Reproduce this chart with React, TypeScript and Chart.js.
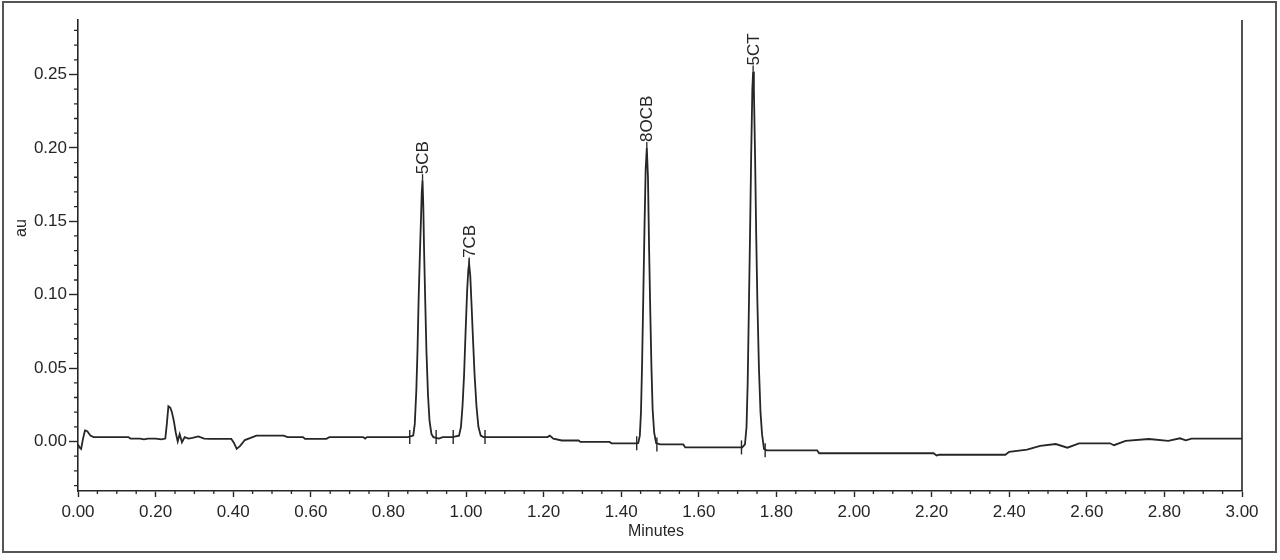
import { useEffect, useRef } from 'react';
import { Chart, registerables } from 'chart.js';

Chart.register(...registerables);

// chromatogram trace (minutes / au)
const minutes = [
  0.000, 0.004, 0.008, 0.013, 0.018, 0.024, 0.032, 0.040, 0.130, 0.135, 0.160, 0.170, 0.180, 0.200, 0.215, 0.225,
  0.229, 0.233, 0.238, 0.242, 0.247, 0.252, 0.257, 0.262, 0.268, 0.275, 0.285, 0.295, 0.310, 0.325, 0.340, 0.395,
  0.402, 0.409, 0.418, 0.430, 0.450, 0.460, 0.530, 0.540, 0.580, 0.585, 0.640, 0.648, 0.735, 0.740, 0.745, 0.850,
  // 5CB
  0.864, 0.868, 0.872, 0.875, 0.878, 0.881, 0.884, 0.886, 0.888, 0.890, 0.892, 0.895, 0.898, 0.902, 0.906, 0.911, 0.916,
  0.930, 0.940, 0.965,
  // 7CB
  0.982, 0.987, 0.991, 0.995, 0.999, 1.003, 1.006, 1.008, 1.011, 1.014, 1.018, 1.022, 1.027, 1.032, 1.038, 1.045,
  1.210, 1.216, 1.225, 1.247, 1.290, 1.295, 1.370, 1.375, 1.440,
  // 8OCB
  1.444, 1.448, 1.451, 1.454, 1.457, 1.460, 1.463, 1.466, 1.469, 1.472, 1.475, 1.478, 1.481, 1.485, 1.490,
  1.500, 1.560, 1.565, 1.712,
  // 5CT
  1.719, 1.723, 1.726, 1.729, 1.732, 1.735, 1.738, 1.740, 1.742, 1.745, 1.748, 1.751, 1.755, 1.759, 1.763, 1.768,
  1.775, 1.905, 1.910, 2.205, 2.213, 2.220, 2.390, 2.400, 2.446, 2.480, 2.520, 2.550, 2.580, 2.660, 2.670, 2.700,
  2.760, 2.810, 2.840, 2.855, 2.870, 3.000,
];

const absorbance = [
  -0.002, -0.004, -0.005, 0.002, 0.0075, 0.007, 0.004, 0.003, 0.003, 0.002, 0.002, 0.0015, 0.002, 0.002, 0.0015, 0.002,
  0.012, 0.024, 0.023, 0.020, 0.014, 0.006, 0.000, 0.005, -0.0005, 0.003, 0.002, 0.0025, 0.0035, 0.002, 0.0018, 0.0018,
  -0.001, -0.005, -0.003, 0.001, 0.003, 0.004, 0.004, 0.003, 0.003, 0.0018, 0.0018, 0.003, 0.003, 0.002, 0.003, 0.003,
  0.004, 0.012, 0.035, 0.062, 0.098, 0.126, 0.152, 0.170, 0.178, 0.160, 0.130, 0.095, 0.062, 0.032, 0.014, 0.005, 0.003,
  0.002, 0.003, 0.003,
  0.004, 0.010, 0.024, 0.045, 0.075, 0.103, 0.117, 0.121, 0.113, 0.095, 0.070, 0.046, 0.024, 0.010, 0.004, 0.003,
  0.003, 0.004, 0.002, 0.0007, 0.0007, -0.0003, -0.0003, -0.0012, -0.0012,
  -0.001, 0.004, 0.020, 0.055, 0.100, 0.145, 0.185, 0.200, 0.180, 0.130, 0.088, 0.050, 0.022, 0.006, -0.001,
  -0.002, -0.002, -0.004, -0.004,
  -0.002, 0.010, 0.040, 0.090, 0.140, 0.195, 0.240, 0.252, 0.240, 0.195, 0.140, 0.095, 0.050, 0.020, 0.005, -0.005,
  -0.006, -0.006, -0.008, -0.008, -0.0095, -0.009, -0.009, -0.007, -0.0055, -0.003, -0.0017, -0.0042, -0.0012, -0.0012, -0.0025, 0.0005,
  0.0017, 0.0005, 0.0022, 0.0008, 0.002, 0.002,
];

// peak labels
const peakNames = ['5CB', '7CB', '8OCB', '5CT'];
const peakTimes = [0.888, 1.008, 1.466, 1.740];
const peakHeights = [0.178, 0.121, 0.200, 0.252];

// integration start/end marks on the baseline
const markTimes = [0.855, 0.923, 0.967, 1.049, 1.440, 1.492, 1.710, 1.771];
const markLevels = [0.003, 0.003, 0.003, 0.003, -0.0012, -0.002, -0.004, -0.006];

const xMin = 0;
const xMax = 3;
const yMin = -0.0337;
const yMax = 0.2871;

const FONT = "'Liberation Sans', Arial, sans-serif";
const INK = '#262626';

const decorations = {
  id: 'decorations',
  afterDraw(chart: any) {
    const { ctx, chartArea: a, scales } = chart;
    const xs = scales.x;
    const ys = scales.y;
    ctx.save();
    ctx.strokeStyle = INK;
    ctx.lineWidth = 1.3;

    // minor ticks
    ctx.beginPath();
    for (let i = 0; i <= 60; i++) {
      if (i % 4 === 0) continue;
      const px = xs.getPixelForValue(i * 0.05);
      ctx.moveTo(px, a.bottom);
      ctx.lineTo(px, a.bottom + 3);
    }
    for (let i = -3; i <= 28; i++) {
      if (i % 5 === 0) continue;
      const py = ys.getPixelForValue(i * 0.01);
      ctx.moveTo(a.left, py);
      ctx.lineTo(a.left - 4, py);
    }
    ctx.stroke();

    // right edge line
    ctx.lineWidth = 1.6;
    ctx.beginPath();
    ctx.moveTo(a.right, a.top);
    ctx.lineTo(a.right, a.bottom);
    ctx.stroke();

    // peak labels
    ctx.fillStyle = INK;
    ctx.font = `17px ${FONT}`;
    ctx.lineWidth = 1.3;
    peakNames.forEach((name, i) => {
      const px = xs.getPixelForValue(peakTimes[i]);
      const py = ys.getPixelForValue(peakHeights[i]);
      ctx.beginPath();
      ctx.moveTo(px, py);
      ctx.lineTo(px, py - 6);
      ctx.stroke();
      ctx.save();
      ctx.translate(px + 1, py - 6);
      ctx.rotate(-Math.PI / 2);
      ctx.textAlign = 'left';
      ctx.textBaseline = 'middle';
      ctx.fillText(name, 0, 0);
      ctx.restore();
    });

    // axis titles
    ctx.font = `16px ${FONT}`;
    ctx.textAlign = 'center';
    ctx.textBaseline = 'middle';
    ctx.fillText('Minutes', 656, 532);
    ctx.save();
    ctx.translate(22, 228);
    ctx.rotate(-Math.PI / 2);
    ctx.fillText('au', 0, 0);
    ctx.restore();

    // outer frame
    ctx.strokeStyle = '#555';
    ctx.lineWidth = 2;
    ctx.strokeRect(3, 2, 1273, 550);
    ctx.restore();
  },
};

function Chromatogram() {
  const canvasRef = useRef<HTMLCanvasElement>(null);

  useEffect(() => {
    if (!canvasRef.current) return;
    const ctx = canvasRef.current.getContext('2d');
    if (!ctx) return;

    const chart = new Chart(ctx, {
      type: 'line',
      data: {
        datasets: [
          {
            label: 'marks',
            type: 'scatter',
            data: markTimes.map((t, i) => ({ x: t, y: markLevels[i] })),
            pointStyle: 'line',
            rotation: 90,
            pointRadius: 7,
            pointBorderWidth: 1.4,
            borderColor: INK,
            backgroundColor: INK,
          },
          {
            label: 'au',
            data: minutes.map((t, i) => ({ x: t, y: absorbance[i] })),
            borderColor: INK,
            borderWidth: 1.8,
            pointRadius: 0,
            tension: 0,
            fill: false,
          },
        ],
      },
      options: {
        responsive: false,
        animation: false,
        events: [],
        layout: { padding: { left: 0, top: 20, right: 38, bottom: 0 } },
        plugins: {
          legend: { display: false },
          tooltip: { enabled: false },
        },
        scales: {
          x: {
            type: 'linear',
            min: xMin,
            max: xMax,
            afterFit: (s: any) => {
              s.height = 69;
            },
            border: { display: true, color: INK, width: 1.6 },
            grid: { drawOnChartArea: false, drawTicks: true, tickLength: 6, tickColor: INK, tickWidth: 1.4 },
            ticks: {
              stepSize: 0.2,
              autoSkip: false,
              maxRotation: 0,
              padding: 5,
              color: INK,
              font: { family: FONT, size: 17 },
              callback: (v: any) => Number(v).toFixed(2),
            },
          },
          y: {
            type: 'linear',
            min: yMin,
            max: yMax,
            afterFit: (s: any) => {
              s.width = 78;
            },
            border: { display: true, color: INK, width: 1.6 },
            grid: { drawOnChartArea: false, drawTicks: true, tickLength: 9, tickColor: INK, tickWidth: 1.4 },
            ticks: {
              stepSize: 0.05,
              includeBounds: false,
              padding: 2,
              color: INK,
              font: { family: FONT, size: 17 },
              callback: (v: any) => Math.abs(Number(v)).toFixed(2),
            },
          },
        },
      },
      plugins: [decorations],
    });

    return () => chart.destroy();
  }, []);

  return <canvas ref={canvasRef} width={1280} height={560} style={{ display: 'block' }} />;
}

export default function App() {
  return (
    <div style={{ position: 'fixed', left: 0, top: 0, width: 1280, height: 560, background: '#fff' }}>
      <Chromatogram />
    </div>
  );
}
